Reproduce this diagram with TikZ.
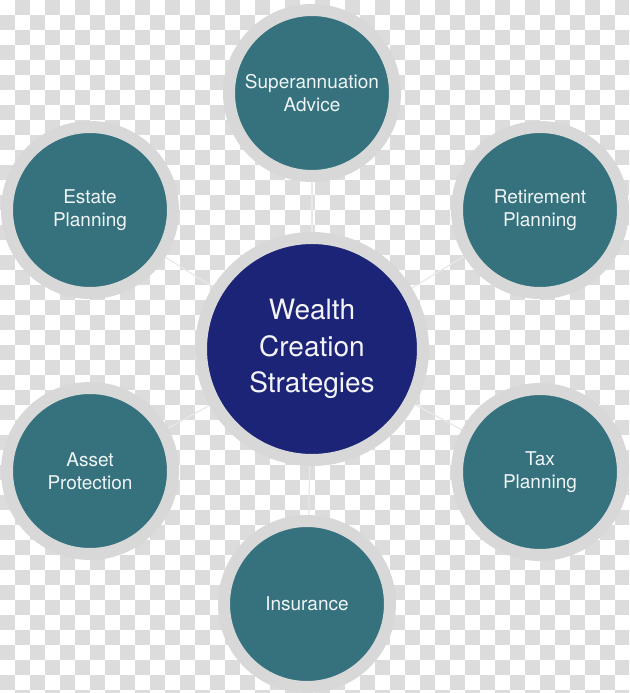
\documentclass[tikz,border=0pt]{standalone}
\usepackage{fontspec}
\setmainfont{TeX Gyre Heros}
\usepackage{tikz}
\usetikzlibrary{positioning}
\definecolor{checkgray}{RGB}{220,220,220}
\definecolor{ringgray}{RGB}{216,216,216}
\definecolor{tealfill}{RGB}{53,114,126}
\definecolor{navyfill}{RGB}{28,36,120}
\definecolor{linkgray}{RGB}{232,232,232}

\begin{document}
\begin{tikzpicture}[x=1pt, y=-1pt,
    topic/.style={circle, draw=ringgray, line width=12pt, fill=tealfill,
      minimum size=166pt, inner sep=0pt, align=center, text=white!92!tealfill,
      font=\fontsize{19}{23.5}\selectfont},
    hub/.style={circle, draw=ringgray, line width=12pt, fill=navyfill,
      minimum size=222pt, inner sep=0pt, align=center, text=white!95!navyfill,
      font=\fontsize{28}{36.5}\selectfont},
    link/.style={draw=linkgray, line width=1.2pt}
  ]
    \useasboundingbox (0,0) rectangle (629,693);

    % Checkered background
    \begin{scope}
      \clip (0,0) rectangle (629,693);
      \fill[white] (0,0) rectangle (629,693);
      \foreach \j in {0,...,46}
        \foreach \i in {0,...,41} {
          \pgfmathparse{int(mod(\i+\j,2))}
          \ifnum\pgfmathresult=1 \fill[checkgray] (\i*15,\j*15) rectangle ++(15,15); \fi
        }
    \end{scope}

    % Centre position and outer topics
    \coordinate (c) at (312, 349);
    \coordinate (p1) at (312, 93);
    \coordinate (p2) at (540, 210);
    \coordinate (p3) at (540, 472);
    \coordinate (p4) at (307, 604);
    \coordinate (p5) at (90, 471);
    \coordinate (p6) at (90, 210);

    % Links (drawn first, rings cover them)
    \foreach \k in {1,...,6}
      \draw[link] (c) -- (p\k);

    % Hub
    \node[hub] (wealth) at (c) {Wealth\\Creation\\Strategies};

    % Topics
    \node[topic] (super) at (p1) {Superannuation\\Advice};
    \node[topic] (retire) at (p2) {Retirement\\Planning};
    \node[topic] (tax) at (p3) {Tax\\Planning};
    \node[topic] (insure) at (p4) {Insurance};
    \node[topic] (asset) at (p5) {Asset\\Protection};
    \node[topic] (estate) at (p6) {Estate\\Planning};

  \end{tikzpicture}
\end{document}
